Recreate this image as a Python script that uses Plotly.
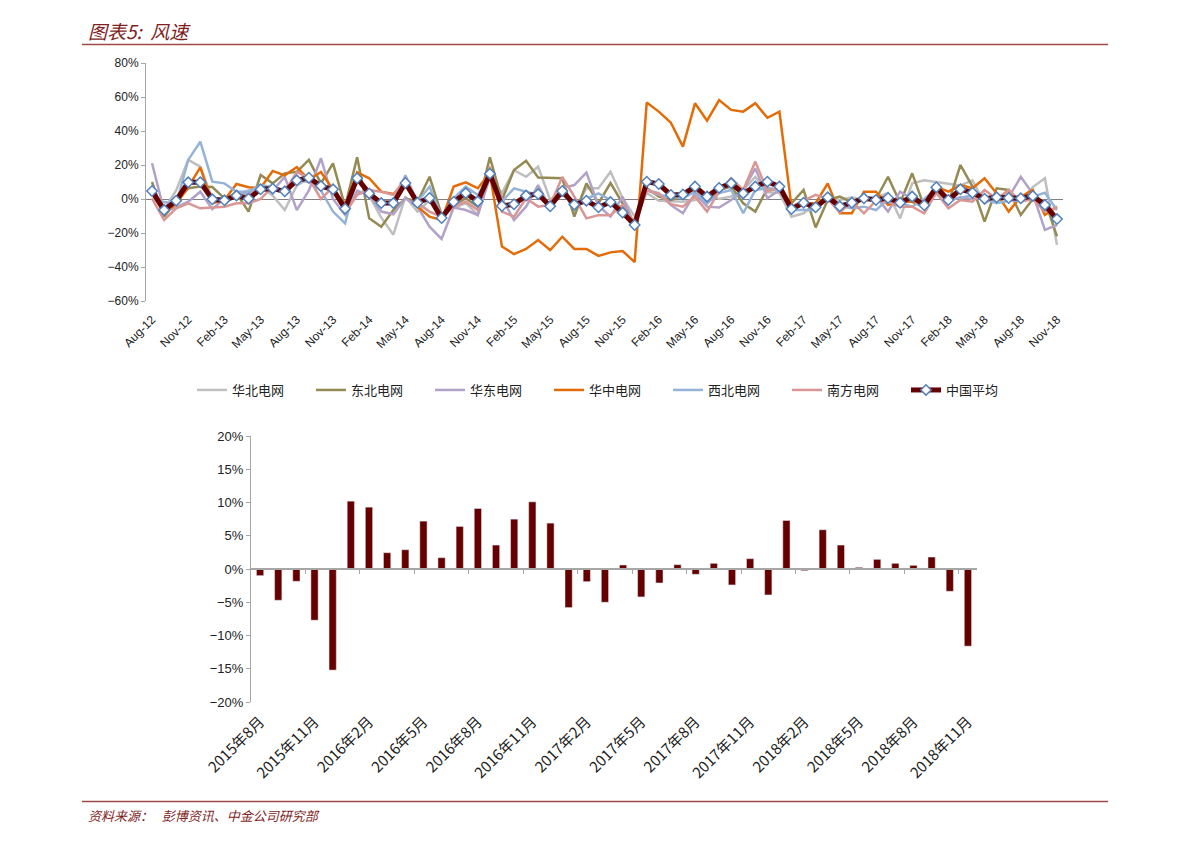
import plotly.graph_objects as go
import pandas as pd

W, H = 1191, 843

# ---------------- data: top chart (monthly YoY change of wind speed, %) ----------------
months = pd.date_range("2012-08-01", "2018-11-01", freq="MS").strftime("%b-%y").tolist()

north = [5, -6, 5, 23, 19, 0, 0, 3, 5, 7, 2, -6.5, 8, 12, 7, 5, -5, 12, 2, -11,
         -21, 1.4, -7.4, -0.6, -10.4, -5.3, -2.4, -9.4, 13.1, 3.5, 17, 13.1, 19, -0.6, 5.3, -6.5, 6.3, 6.3, 16, 0.6,
         -10.4, 3.5, -1, -1.5, -1.6, -0.6, 3.5, 0, 1.5, 5.3, 13, 4, 3.5, -10.4, -8.4, -2.5, 0.6, -0.6, 1, -0.6,
         1, 3.5, -11.4, 9.2, 11, 10, 9, 8, 11, -2.5, 1, 3.5, -1, 7, 12.2, -27]
northeast = [10, -10.4, -1.4, 6.3, 7.3, 7, 0.4, 3.3, -7.4, 14.1, 9.2, 15.1, 16, 23, 9.2, 21, -4.5, 24.5, -11.4, -16.3,
             -6.5, 0.4, -1.6, 13.1, -9.4, -3.5, 0.4, -4.5, 24.5, -0.6, 17, 22.5, 12.7, 12.5, 12.2, -10.4, 9.2, -2.5, 9.4, -2.5,
             -16, 6.3, 1.4, -0.6, 1.4, 5.3, -2.5, 5.3, 7.3, -2.5, -7.4, 6.3, 5.3, -2.5, 5.3, -16.7, -0.6, 1.4, -2, 1,
             0, 13.1, -2.4, 15.1, -4.5, 7.3, -2.4, 20, 7.3, -13.3, 6.3, 5.3, -9.4, 0, -1, -22]
east = [21, -7, -5, -1.6, 4.3, -6, 0.4, 3, 3, 8, 5, 13, -6.5, 5, 24, 0, -9.4, 5, 2, -7.4,
        -9, 0.4, -4.5, -16.3, -23.5, -5, -6.5, -9.4, 13, 0, -12.4, -4.5, 8.2, -5.5, 6.3, 8.2, 15.5, -4, -10.4, 1.4,
        -16, 5.3, 3.5, -3.5, -8.4, 3.5, -4.5, -5, -0.6, 5.3, 18, 0.4, 5.3, -5, -2.5, -2.5, 0, -4, -1, 0,
        1.4, -7.4, 4.3, 0, -4.5, 3.3, -1, 1, 0, 1, -1, 1, 13, 3, -18.2, -15.3]
central = [3, -8, -3, 7, 18.6, -2.5, -0.6, 8.8, 6.9, 6.5, 16.5, 13.9, 18.8, 11.2, 15.9, 5.7, -4.7, 15.7, 12.2, 4.3,
           2.9, 10.2, -4.5, -10.4, -12.5, 7.3, 9.8, 6.3, 15.1, -28, -32.4, -29.4, -24.1, -30, -22.2, -29.4, -29.4, -33.5, -31.4, -30.6,
           -37.1, 56.7, 51.4, 44.9, 30.8, 56.3, 46.1, 58.2, 52.4, 51.4, 56.3, 47.8, 51.4, -4.5, -2.5, -2.5, 9.2, -8.4, -8.4, 4.3,
           4.3, -3.5, -1.6, -1.6, -4.5, 7.3, 4.3, 8.2, 6.3, 12.2, 3.3, -7.4, 1.4, 5.3, -9.4, -4.5]
northwest = [-0.6, -2, -3, 23, 33.7, 10.2, 9.2, 4.3, 4.3, 8.2, 7, 4.3, 11, 10, 5, -7.4, -14.3, 13, 4, -2.5,
             -2.4, 14, -1.6, 7.3, -10.4, 0.4, 7.3, 2.4, 14, -1.6, 6.3, 4.3, 2.4, -3.5, 2.4, -2.4, 0, 3.3, -0.6, -5.5,
             -13.3, 5.3, 2.4, 1.4, 0.4, 4.3, -2.5, 3.5, 5.3, -8.4, 5.3, 6.3, 5.3, -6.5, -6.5, -6.5, 1.4, -4, -5.5, -4.5,
             -6.5, 0, -2.4, -4.5, 0, 6.3, 0.4, 0.4, 2.4, 0, -2.5, -1, -1, 1.4, 3.7, -6.5]
south = [0.4, -12.4, -5.5, -2.5, -5.5, -5, -4.5, -2.5, -2.5, 0, 7.3, 4.3, 16, 12.2, 0, 7, -8.4, 2.5, 5.3, 4.3,
         2.4, 12.2, -2.4, -7.4, -10.4, -4.5, -1.6, -6.5, 19, -7.4, -10.4, 0.4, -4.5, -3.5, 13, 1.4, -11.4, -9.5, -9.6, -3.5,
         -14, 5, 3, -3, -4.5, 1.4, -7.4, 4.5, 12.2, 5.3, 22, 4.5, 7, -4.5, -1, 2.4, 0, -8, -1.6, -8.4,
         -1, -1.6, -4.5, -4.5, -8.4, 3.7, -5.5, -0.6, -1.6, 5.3, 0, 5.3, -1.6, 0, -7.4, -5]
china_avg = [4.7, -6.5, -1.0, 9.8, 9.8, -0.2, -0.8, 2.0, 0.2, 5.7, 6.1, 4.5, 11.0, 12.5, 7.6, 5.7, -5.7, 12.2, 3.3, -2.4,
             -2.4, 9.4, -2.2, 0.6, -11.2, -1.6, 3.5, -1.4, 14.9, -4.1, -3.1, 2.0, 2.9, -4.3, 4.7, -3.3, -1.0, -4.9, -1.8, -8.0,
             -15.3, 10.2, 8.8, 2.4, 2.7, 7.3, 1.4, 6.5, 9.2, 3.3, 7.3, 10.2, 7.3, -5.9, -2.2, -4.9, 1.0, -4.3, -2.2, 0.4,
             -0.6, 0.6, -2.2, 1.4, -3.7, 6.9, -0.6, 5.7, 3.7, 0.2, 1.0, 0.6, 0.4, 1.8, -3.5, -11.8]

series_names = ["华北电网", "东北电网", "华东电网", "华中电网", "西北电网", "南方电网"]
series_vals = [north, northeast, east, central, northwest, south]
series_colors = ["#BFBFBF", "#948A54", "#B3A2C7", "#E36C09", "#95B3D7", "#D99694"]

top_ticks = months[::3]

# ---------------- data: bottom chart (China average, %) ----------------
bar_months = [f"{d.year}年{d.month}月" for d in pd.date_range("2015-08-01", "2018-11-01", freq="MS")]
bar_vals = [-1.0, -4.7, -1.85, -7.7, -15.2, 10.2, 9.3, 2.45, 2.9, 7.2,
            1.7, 6.4, 9.1, 3.6, 7.5, 10.1, 6.9, -5.8, -1.9, -5.0,
            0.6, -4.2, -2.1, 0.65, -0.8, 0.85, -2.4, 1.55, -3.9, 7.3,
            -0.25, 5.9, 3.6, 0.25, 1.45, 0.85, 0.55, 1.8, -3.35, -11.6]
bar_ticks = bar_months[::3]

# ---------------- figure ----------------
fig = go.Figure()
for name, vals, col in zip(series_names, series_vals, series_colors):
    fig.add_trace(go.Scatter(x=months, y=vals, name=name, mode="lines",
                             line=dict(color=col, width=2.5), xaxis="x", yaxis="y"))
fig.add_trace(go.Scatter(x=months, y=china_avg, name="中国平均", mode="lines+markers",
                         line=dict(color="#660000", width=5),
                         marker=dict(symbol="diamond", size=8, color="white",
                                     line=dict(color="#4F81BD", width=1.5)),
                         xaxis="x", yaxis="y"))

fig.add_trace(go.Bar(x=bar_months, y=bar_vals, marker=dict(color="#660000"),
                     showlegend=False, xaxis="x2", yaxis="y2"))
fig.add_trace(go.Scatter(x=[], y=[], xaxis="x3", yaxis="y2", showlegend=False))

top_x = [146 / W, 1063 / W]
top_y = [1 - 301 / H, 1 - 63 / H]
bot_x = [251 / W, 977 / W]
bot_y = [1 - 702 / H, 1 - 436 / H]
bot_range = [-20, 20]
zero_pos = bot_y[0] + (0 - bot_range[0]) / (bot_range[1] - bot_range[0]) * (bot_y[1] - bot_y[0])

tick_font = dict(family="Liberation Sans, Arial", size=12, color="#222222")
axis_gray = "#A6A6A6"

fig.update_layout(
    width=W, height=H, autosize=False,
    margin=dict(l=0, r=0, t=0, b=0),
    paper_bgcolor="white", plot_bgcolor="white",
    showlegend=True,
    bargap=0.6,
    legend=dict(orientation="h", x=192 / W, y=1 - 375 / H, xanchor="left", yanchor="top",
                entrywidth=74, entrywidthmode="pixels", bgcolor="rgba(0,0,0,0)",
                font=dict(family="Noto Sans CJK SC", size=13, color="#222222"),
                itemclick=False, itemdoubleclick=False),
    xaxis=dict(domain=top_x, anchor="y", type="category", range=[-0.5, len(months) - 0.5],
               tickvals=top_ticks, ticktext=top_ticks, tickangle=-45, tickfont=tick_font,
               showgrid=False, showline=False, ticks="outside", ticklen=6,
               tickcolor="rgba(0,0,0,0)", automargin=False, zeroline=False),
    yaxis=dict(domain=top_y, anchor="x", range=[-60, 80], dtick=20, ticksuffix="%",
               tickfont=tick_font, showgrid=False, showline=True, linecolor=axis_gray, linewidth=1,
               ticks="outside", ticklen=4, tickcolor=axis_gray, zeroline=True, zerolinecolor="#808080",
               zerolinewidth=1, automargin=False),
    xaxis2=dict(domain=bot_x, anchor="y2", type="category", range=[-0.5, len(bar_months) - 0.5],
                tickvals=bar_ticks, ticktext=bar_ticks, tickangle=-45,
                tickfont=dict(family="Noto Sans CJK SC", size=15, color="#222222"),
                showgrid=False, showline=False, ticks="outside", ticklen=4,
                tickcolor="rgba(0,0,0,0)", automargin=False, zeroline=False),
    xaxis3=dict(overlaying="x2", anchor="free", position=zero_pos, range=[-0.5, len(bar_months) - 0.5],
                tickvals=[k - 0.5 for k in range(3, len(bar_months), 3)], showticklabels=False,
                showline=True, linecolor=axis_gray, linewidth=1.5, ticks="outside", ticklen=4,
                tickcolor=axis_gray, showgrid=False, zeroline=False, automargin=False),
    yaxis2=dict(domain=bot_y, anchor="x2", range=bot_range, dtick=5, ticksuffix="%",
                tickfont=dict(family="Liberation Sans, Arial", size=13, color="#222222"),
                showgrid=False, showline=True, linecolor=axis_gray, linewidth=1,
                ticks="outside", ticklen=4, tickcolor=axis_gray, zeroline=False, automargin=False),
)

title_color = "#7F1F1F"
fig.add_annotation(text="<i>图表5:  风速</i>", x=86 / W, y=1 - 31 / H, xref="paper", yref="paper",
                   xanchor="left", yanchor="middle", showarrow=False,
                   font=dict(family="Noto Sans CJK SC", size=19, color=title_color))
fig.add_annotation(text="<i>资料来源：   彭博资讯、中金公司研究部</i>", x=86 / W, y=1 - 815 / H,
                   xref="paper", yref="paper", xanchor="left", yanchor="middle", showarrow=False,
                   font=dict(family="Noto Sans CJK SC", size=13, color=title_color))
fig.add_shape(type="line", xref="paper", yref="paper", x0=82 / W, x1=1108 / W,
              y0=1 - 44.5 / H, y1=1 - 44.5 / H, line=dict(color="#9E4A4A", width=1.5))
fig.add_shape(type="line", xref="paper", yref="paper", x0=82 / W, x1=1108 / W,
              y0=1 - 801.5 / H, y1=1 - 801.5 / H, line=dict(color="#9E4A4A", width=1.5))

fig.write_html("out.html")
